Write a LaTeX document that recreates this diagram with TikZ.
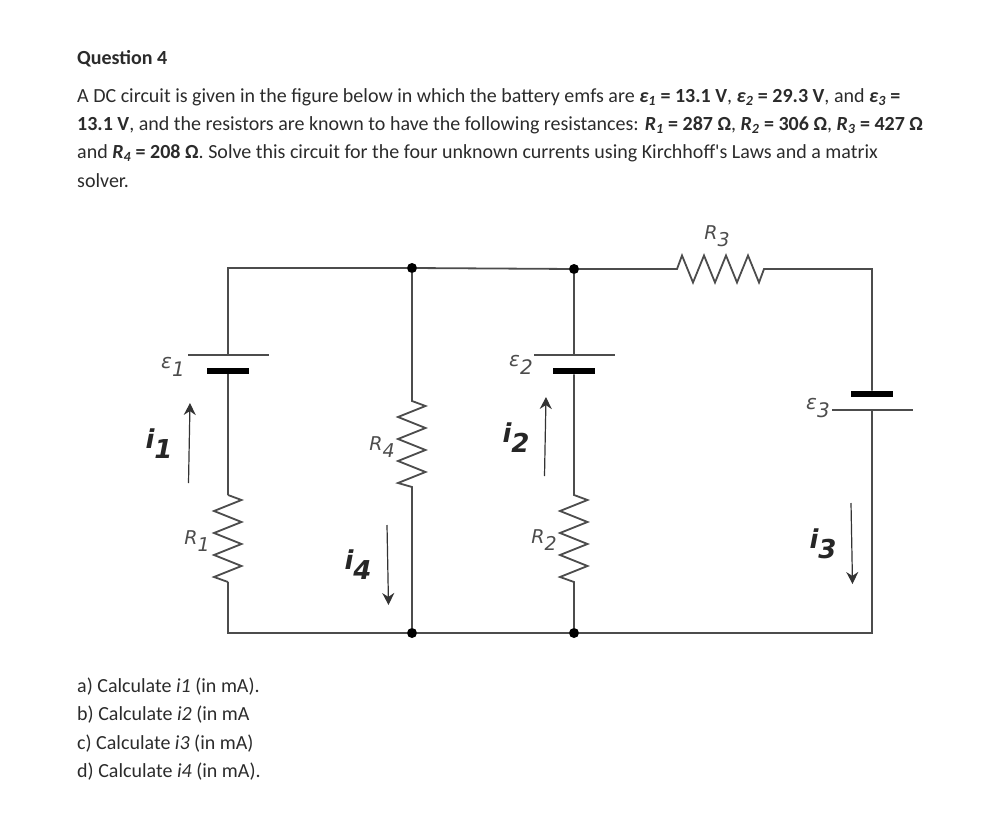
\documentclass[tikz,border=0pt]{standalone}
\usepackage{fontspec}
\setmainfont{Carlito}
\newfontfamily\circuitfont{DejaVu Sans}
\usetikzlibrary{arrows.meta}
\definecolor{wirecol}{gray}{0.3}
\definecolor{textcol}{gray}{0.17}
\newcommand{\symb}[2]{\textbf{\textit{#1\textsubscript{#2}}}}
\newcommand{\partlab}[2]{{\itshape #1\raisebox{-0.7ex}{#2}}}
\tikzset{
  wire/.style={draw=wirecol,line width=1.8pt,line join=miter},
  textline/.style={anchor=base west,inner sep=0pt,text=textcol,font=\fontsize{20}{20}\selectfont},
  partname/.style={inner sep=0pt,text=wirecol,font=\circuitfont\fontsize{19}{19}\selectfont},
  emfname/.style={inner sep=0pt,text=wirecol,font=\circuitfont\fontsize{20}{20}\selectfont},
  curname/.style={inner sep=0pt,text=black!85,font=\circuitfont\bfseries\fontsize{26}{26}\selectfont},
  junction/.style={circle,fill=black,inner sep=0pt,minimum size=10pt},
  thinplate/.style={rectangle,fill=wirecol,inner sep=0pt,minimum width=81pt,minimum height=1.8pt},
  thickplate/.style={rectangle,fill=black,inner sep=0pt,minimum width=42pt,minimum height=6.5pt},
  curarrow/.style={draw=black!80,line width=1.2pt,-{Stealth[length=12pt,width=12pt]}},
  resistor down/.style={to path={-- ++(13.5,5) -- ++(-27.5,11) -- ++(27.5,11) -- ++(-27.5,11)
     -- ++(27.5,11) -- ++(-27.5,11) -- ++(27.5,11) -- ++(-27.5,11) -- (\tikztotarget)}},
  resistor right/.style={to path={-- ++(5,-13.5) -- ++(11,27) -- ++(11,-27) -- ++(11,27)
     -- ++(11,-27) -- ++(11,27) -- ++(11,-27) -- ++(11,27) -- (\tikztotarget)}}
}
\begin{document}
\begin{tikzpicture}[x=1pt,y=-1pt]
   \useasboundingbox (0,0) rectangle (984,816);
   % text
   \node[textline] (title) at (77,64) {\textbf{Question 4}};
   \node[textline] (line1) at (77,102) {A DC circuit is given in the figure below in which the battery emfs are \symb{ε}{1} \textbf{= 13.1 V}, \symb{ε}{2} \textbf{= 29.3 V}, and \symb{ε}{3} \textbf{=}};
   \node[textline] (line2) at (77,130) {\textbf{13.1 V}, and the resistors are known to have the following resistances: \symb{R}{1} \textbf{= 287 Ω}, \symb{R}{2} \textbf{= 306 Ω}, \symb{R}{3} \textbf{= 427 Ω}};
   \node[textline] (line3) at (77,158) {and \symb{R}{4} \textbf{= 208 Ω}. Solve this circuit for the four unknown currents using Kirchhoff\textquotesingle s Laws and a matrix};
   \node[textline] (line4) at (77,187) {solver.};
   \node[textline] (parta) at (77,692) {a) Calculate \textit{i1} (in mA).};
   \node[textline] (partb) at (77,720) {b) Calculate \textit{i2} (in mA};
   \node[textline] (partc) at (77,749) {c) Calculate \textit{i3} (in mA)};
   \node[textline] (partd) at (77,777) {d) Calculate \textit{i4} (in mA).};
   % corners and junctions
   \coordinate (tl) at (228,268);
   \coordinate (bl) at (228,633);
   \coordinate (tr) at (872,269);
   \coordinate (br) at (872,633);
   \node[junction] (j4t) at (412,268) {};
   \node[junction] (j2t) at (574,269) {};
   \node[junction] (j4b) at (412,633) {};
   \node[junction] (j2b) at (574,633) {};
   % batteries
   \node[thinplate] (e1thin) at (228,355) {};
   \node[thickplate] (e1thick) at (228,371) {};
   \node[thinplate] (e2thin) at (574,355) {};
   \node[thickplate] (e2thick) at (574,371) {};
   \node[thickplate] (e3thick) at (872,394) {};
   \node[thinplate] (e3thin) at (872,410) {};
   % resistor ends
   \coordinate (r1a) at (228,495);
   \coordinate (r1b) at (228,582);
   \coordinate (r2a) at (574,495);
   \coordinate (r2b) at (574,582);
   \coordinate (r4a) at (412,401);
   \coordinate (r4b) at (412,487);
   \coordinate (r3a) at (677,269);
   \coordinate (r3b) at (764,269);
   % wires
   \draw[wire] (j2t) -- (r3a) to[resistor right] (r3b) -- (tr) -- (e3thick);
   \draw[wire] (e3thin) -- (br) -- (j2b) -- (j4b) -- (bl) -- (r1b);
   \draw[wire] (r1a) to[resistor down] (r1b);
   \draw[wire] (r1a) -- (e1thick);
   \draw[wire] (e1thin) -- (tl) -- (j4t) -- (j2t) -- (e2thin);
   \draw[wire] (e2thick) -- (r2a) to[resistor down] (r2b) -- (j2b);
   \draw[wire] (j4t) -- (r4a) to[resistor down] (r4b) -- (j4b);
   % currents
   \coordinate (i1a) at (188.5,483);
   \coordinate (i1b) at (190,403);
   \coordinate (i2a) at (544.5,476);
   \coordinate (i2b) at (546,397);
   \coordinate (i3a) at (851,503);
   \coordinate (i3b) at (852.5,584);
   \coordinate (i4a) at (387,525);
   \coordinate (i4b) at (388.5,605);
   \draw[curarrow] (i1a) -- (i1b);
   \draw[curarrow] (i2a) -- (i2b);
   \draw[curarrow] (i3a) -- (i3b);
   \draw[curarrow] (i4a) -- (i4b);
   % labels
   \node[emfname] (e1) at (173,367) {\partlab{ε}{1}};
   \node[emfname] (e2) at (521,365) {\partlab{ε}{2}};
   \node[emfname] (e3) at (818,408) {\partlab{ε}{3}};
   \node[partname] (r1) at (197,541) {\partlab{R}{1}};
   \node[partname] (r2) at (544,540) {\partlab{R}{2}};
   \node[partname] (r3) at (717,236) {\partlab{R}{3}};
   \node[partname] (r4) at (382,447) {\partlab{R}{4}};
   \node[curname] (i1) at (159,444) {\partlab{i}{1}};
   \node[curname] (i2) at (516,438) {\partlab{i}{2}};
   \node[curname] (i3) at (823,544) {\partlab{i}{3}};
   \node[curname] (i4) at (358,565) {\partlab{i}{4}};
\end{tikzpicture}
\end{document}
